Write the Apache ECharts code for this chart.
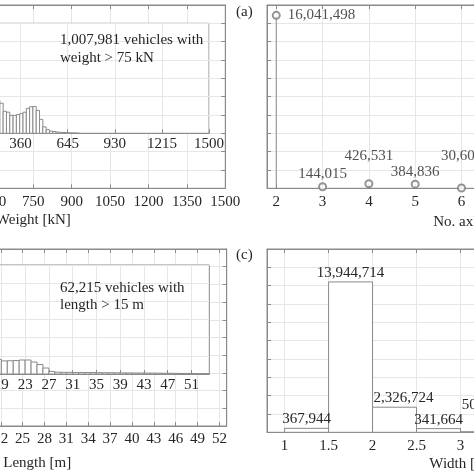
<!DOCTYPE html>
<html>
<head>
<meta charset="utf-8">
<script src="https://cdn.jsdelivr.net/npm/echarts@6/dist/echarts.min.js"></script>
<style>
html, body { margin: 0; padding: 0; background: #fff; }
#chart { width: 474px; height: 474px; }
</style>
</head>
<body>
<div id="chart"></div>
<script>
// (a) vehicles per number of axles
var axles = [2, 3, 4, 5, 6];
var axleCounts = [16041498, 144015, 426531, 384836, 30604];

// (c) vehicles per width class [m]
var widthLow = [1, 1.5, 2, 2.5, 3];
var widthHigh = [1.5, 2, 2.5, 3, 3.5];
var widthCounts = [367944, 13944714, 2326724, 341664, 50417];

// weight inset: vehicles > 75 kN, 20 kN bins (lower edge)
var weightBins = [75, 95, 115, 135, 155, 175, 195, 215, 235, 255, 275, 295, 315, 335, 355, 375,
  395, 415, 435, 455, 475, 495, 515, 535, 555, 575, 595, 615, 635, 655, 675, 695];
var weightFreq = [5.2, 4.4, 3.6, 3.0, 2.6, 2.3, 2.0, 1.8, 1.64, 1.2, 1.15, 0.98, 0.98, 1.02, 1.07, 1.15,
  1.36, 1.45, 1.46, 1.25, 0.76, 0.35, 0.2, 0.12, 0.1, 0.065, 0.055, 0.045, 0.03, 0.02, 0.012, 0.006];

// length inset: vehicles > 15 m, 1 m bins (lower edge)
var lengthBins = [15, 16, 17, 18, 19, 20, 21, 22, 23, 24, 25, 26, 27, 28, 29, 30, 31, 32, 33, 34,
  35, 36, 37, 38, 39, 40, 41, 42, 43, 44, 45, 46, 47, 48, 49, 50, 51, 52, 53];
var lengthFreq = [2.5, 1.6, 1.0, 0.8, 0.72, 0.73, 0.74, 0.77, 0.77, 0.66, 0.52, 0.33, 0.14, 0.1, 0.09,
  0.09, 0.085, 0.085, 0.08, 0.08, 0.075, 0.07, 0.07, 0.065, 0.06, 0.06, 0.055, 0.055, 0.05, 0.05,
  0.045, 0.04, 0.04, 0.035, 0.03, 0.03, 0.025, 0.02, 0.02];

// tick labels
var weightInsetTicks = [75, 360, 645, 930, 1215, 1500];
var lengthTicks = [1, 4, 7, 10, 13, 16, 19, 22, 25, 28, 31, 34, 37, 40, 43, 46, 49, 52];
var lengthInsetTicks = [15, 19, 23, 27, 31, 35, 39, 43, 47, 51];
var axleTicks = [2, 3, 4, 5, 6, 7, 8, 9, 10];
var widthTicks = [1, 1.5, 2, 2.5, 3, 3.5, 4, 4.5, 5];

var weightNote = '1,007,981 vehicles with\nweight > 75 kN';
var lengthNote = '62,215 vehicles with\nlength > 15 m';

var FONT = 'Liberation Serif';
var TXT = '#262626';
var BOX = '#8a8a8a';
var GRIDC = '#e6e6e6';

function fmt(v) { return v.toLocaleString('en-US'); }

// one axis in matlab look: box line, inward ticks, light grid
function ax(grid, o) {
  var a = {
    gridIndex: grid,
    type: 'value',
    min: o.min, max: o.max,
    position: o.pos,
    z: o.z || 0,
    axisLine: { show: true, onZero: false, lineStyle: { color: BOX, width: 1 } },
    axisTick: { show: true, inside: true, length: 4, lineStyle: { color: BOX } },
    axisLabel: {
      show: !!o.labels, color: TXT, fontFamily: FONT, fontSize: 15, margin: o.margin || 6,
      hideOverlap: false, showMinLabel: true, showMaxLabel: true,
      formatter: function (v) { return String(v); }
    },
    splitLine: { show: !!o.split, lineStyle: { color: GRIDC, width: 1 } }
  };
  if (o.interval) a.interval = o.interval;
  if (o.ticks) {
    a.axisTick.customValues = o.ticks;
    a.axisLabel.customValues = o.ticks;
  }
  if (o.name) {
    a.name = o.name;
    a.nameLocation = 'middle';
    a.nameGap = o.nameGap;
    a.nameTextStyle = { color: TXT, fontFamily: FONT, fontSize: 15 };
  }
  return a;
}

function histItem(params, api) {
  var p0 = api.coord([api.value(0), 0]);
  var p1 = api.coord([api.value(1), api.value(2)]);
  return {
    type: 'rect',
    shape: { x: p0[0], y: p1[1], width: p1[0] - p0[0], height: p0[1] - p1[1] },
    style: { fill: '#fff', stroke: BOX, lineWidth: 1 }
  };
}

var widthLabelCfg = [
  { distance: 1, offset: [0, 0] },
  { distance: 1, offset: [0, 0] },
  { distance: 1, offset: [9, 0] },
  { distance: 1, offset: [0, 0] },
  { distance: 19, offset: [0, 0] }
];
function widthItem(params, api) {
  var p0 = api.coord([api.value(0), 0]);
  var p1 = api.coord([api.value(1), api.value(2)]);
  var cfg = widthLabelCfg[params.dataIndex];
  return {
    type: 'rect',
    shape: { x: p0[0], y: p1[1], width: p1[0] - p0[0], height: p0[1] - p1[1] },
    style: { fill: '#fff', stroke: BOX, lineWidth: 1 },
    textContent: { style: { text: fmt(api.value(2)), fill: TXT, font: '15px "' + FONT + '"' } },
    textConfig: { position: 'top', distance: cfg.distance, offset: cfg.offset, outsideFill: TXT }
  };
}

function stemItem(params, api) {
  var p0 = api.coord([api.value(0), 0]);
  var p1 = api.coord([api.value(0), api.value(1)]);
  return {
    type: 'line',
    shape: { x1: p0[0], y1: p0[1], x2: p1[0], y2: p1[1] },
    style: { stroke: BOX, lineWidth: 1 }
  };
}

var axleLabelCfg = [
  { position: 'right', distance: 7 },
  { position: 'top', distance: 1 },
  { position: 'top', distance: 16 },
  { position: 'top', distance: 0 },
  { position: 'top', distance: 20 }
];

var chart = echarts.init(document.getElementById('chart'), null, { renderer: 'canvas' });

function gridBox(left, top, width, height, z, bg) {
  return {
    left: left, top: top, width: width, height: height,
    show: true, borderColor: BOX, borderWidth: 1,
    backgroundColor: bg ? '#fff' : 'transparent',
    containLabel: false, outerBoundsMode: 'none', z: z
  };
}

var option = {
  backgroundColor: '#fff',
  animation: false,
  textStyle: { fontFamily: FONT },
  grid: [
    gridBox(-158.7, 5, 384, 183.3, 0, true),
    gridBox(-26.6, 23.3, 235.6, 110, 2, true),
    gridBox(267, 5, 389, 183.3, 0, false),
    gridBox(-152.3, 249, 379, 177, 0, true),
    gridBox(-22.4, 265, 231.7, 109, 2, true),
    gridBox(267, 249, 387, 183.3, 0, false)
  ],
  xAxis: [
    ax(0, { min: 0, max: 1500, interval: 150, pos: 'bottom', labels: true, split: true, name: 'Weight [kN]', nameGap: 24 }),
    ax(0, { min: 0, max: 1500, interval: 150, pos: 'top' }),
    ax(1, { min: 75, max: 1500, ticks: weightInsetTicks, pos: 'bottom', labels: true, split: true, margin: 3, z: 3 }),
    ax(2, { min: 1.8, max: 10.2, ticks: axleTicks, pos: 'bottom', labels: true, split: true, name: 'No. axles', nameGap: 26 }),
    ax(2, { min: 1.8, max: 10.2, ticks: axleTicks, pos: 'top' }),
    ax(3, { min: 1, max: 53, ticks: lengthTicks, pos: 'bottom', labels: true, split: true, name: 'Length [m]', nameGap: 30 }),
    ax(3, { min: 1, max: 53, ticks: lengthTicks, pos: 'top' }),
    ax(4, { min: 15, max: 54, ticks: lengthInsetTicks, pos: 'bottom', labels: true, split: true, margin: 4, z: 3 }),
    ax(5, { min: 0.8, max: 5.2, ticks: widthTicks, pos: 'bottom', labels: true, split: true, name: 'Width [m]', nameGap: 24 }),
    ax(5, { min: 0.8, max: 5.2, ticks: widthTicks, pos: 'top' })
  ],
  yAxis: [
    ax(0, { min: 0, max: 10, interval: 1, pos: 'left', split: true }),
    ax(0, { min: 0, max: 10, interval: 1, pos: 'right' }),
    ax(1, { min: 0, max: 6, interval: 1, pos: 'left', split: true, z: 3 }),
    ax(2, { min: 0, max: 17000000, interval: 1700000, pos: 'left', split: true }),
    ax(3, { min: 0, max: 10, interval: 1, pos: 'left', split: true }),
    ax(3, { min: 0, max: 10, interval: 1, pos: 'right' }),
    ax(4, { min: 0, max: 6, interval: 1, pos: 'left', split: true, z: 3 }),
    ax(5, { min: 0, max: 17000000, interval: 1700000, pos: 'left', split: true })
  ],
  series: [
    {
      name: 'weight > 75 kN',
      type: 'custom',
      xAxisIndex: 2, yAxisIndex: 2,
      z: 4,
      renderItem: histItem,
      encode: { x: [0, 1], y: 2 },
      data: weightBins.map(function (b, i) { return [b, b + 20, weightFreq[i]]; })
    },
    {
      name: 'length > 15 m',
      type: 'custom',
      xAxisIndex: 7, yAxisIndex: 6,
      z: 4,
      renderItem: histItem,
      encode: { x: [0, 1], y: 2 },
      data: lengthBins.map(function (b, i) { return [b, b + 1, lengthFreq[i]]; })
    },
    {
      name: 'axle stems',
      type: 'custom',
      xAxisIndex: 3, yAxisIndex: 3,
      renderItem: stemItem,
      encode: { x: 0, y: 1 },
      data: axles.map(function (a, i) { return [a, axleCounts[i]]; })
    },
    {
      name: 'No. axles',
      type: 'scatter',
      xAxisIndex: 3, yAxisIndex: 3,
      symbol: 'emptyCircle',
      symbolSize: 7,
      itemStyle: { color: '#7a7a7a', borderWidth: 1 },
      label: {
        show: true, color: TXT, fontFamily: FONT, fontSize: 15,
        formatter: function (p) { return fmt(p.value[1]); }
      },
      data: axles.map(function (a, i) {
        var l = axleLabelCfg[i];
        return {
          value: [a, axleCounts[i]],
          label: { position: l.position, distance: l.distance, color: TXT }
        };
      })
    },
    {
      name: 'Width',
      type: 'custom',
      xAxisIndex: 8, yAxisIndex: 7,
      renderItem: widthItem,
      encode: { x: [0, 1], y: 2 },
      data: widthLow.map(function (l, i) { return [l, widthHigh[i], widthCounts[i]]; })
    }
  ],
  graphic: [
    { type: 'text', left: 236, top: 5, z: 10, style: { text: '(a)', fill: TXT, font: '15px "' + FONT + '"' } },
    { type: 'text', left: 236, top: 248, z: 10, style: { text: '(c)', fill: TXT, font: '15px "' + FONT + '"' } },
    { type: 'text', left: 60, top: 31, z: 10, style: { text: weightNote, fill: TXT, font: '15px "' + FONT + '"', lineHeight: 18 } },
    { type: 'text', left: 60, top: 279, z: 10, style: { text: lengthNote, fill: TXT, font: '15px "' + FONT + '"', lineHeight: 17.5 } }
  ]
};

chart.setOption(option);
</script>
</body>
</html>
